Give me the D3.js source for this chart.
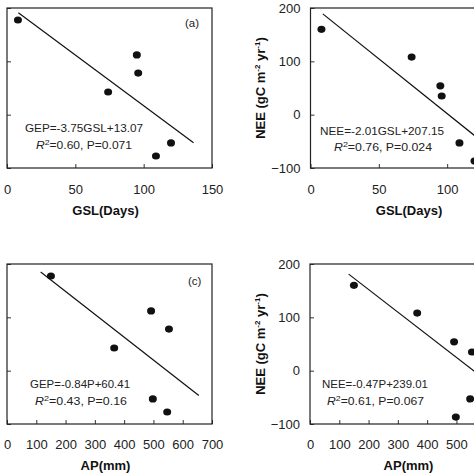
<!DOCTYPE html>
<html>
<head>
<meta charset="utf-8">
<script src="https://cdn.jsdelivr.net/npm/d3@7/dist/d3.min.js"></script>
<style>
  html, body { margin: 0; padding: 0; background: #fff; }
  svg { display: block; font-family: Arial, "Liberation Sans", Helvetica, sans-serif; }
</style>
</head>
<body>
<svg id="chart" width="474" height="474"></svg>
<script>
// ---- data ----
const gsl = [8, 74, 95, 96, 109, 120];          // growing season length (days)
const ap  = [150, 366, 492, 553, 547, 498];      // annual precipitation (mm)
const gep = [755, 485, 624, 556, 245, 294];      // GEP
const nee = [160, 108, 54, 35, -53, -87];        // NEE (gC m-2 yr-1)

// fitted-line end points as drawn in each panel [x, y]
const fitGslGep = [[8.3, 782], [136.5, 295]];
const fitGslNee = [[9, 189], [136, -72]];
const fitApGep  = [[115, 770], [655, 307]];
const fitApNee  = [[132, 181], [650, -39]];

// tick values
const gslTicks = [0, 50, 100, 150];
const apTicks  = [0, 100, 200, 300, 400, 500, 600, 700];
const gepTicks = [200, 400, 600, 800];
const neeTicks = [-100, 0, 100, 200];

const svg = d3.select("#chart");
svg.append("rect").attr("width", 474).attr("height", 474).attr("fill", "#fff");

function panel(o) {
  const W = 205, H = 160;
  const g = svg.append("g").attr("transform", `translate(${o.left},${o.top})`);
  const x = d3.scaleLinear().domain(o.xDomain).range([0, W]);
  const y = d3.scaleLinear().domain(o.yDomain).range([H, 0]);

  // x axis (ticks inward)
  const xa = g.append("g").attr("transform", `translate(0,${H})`)
    .call(d3.axisBottom(x).tickValues(o.xTicks.filter(v => o.left + x(v) < 474))
      .tickSizeInner(-4).tickSizeOuter(0).tickPadding(o.xPad));
  xa.select(".domain").remove();
  xa.selectAll("line").attr("stroke", "#333");
  xa.selectAll("text").attr("font-size", 13).attr("fill", "#222")
    .attr("font-family", "Arial, 'Liberation Sans', sans-serif");

  // y axis (ticks inward)
  const ya = g.append("g")
    .call(d3.axisLeft(y).tickValues(o.yTicks).tickSizeInner(-4).tickSizeOuter(0)
      .tickPadding(10).tickFormat(o.yLabels ? d3.format("d") : () => ""));
  ya.select(".domain").remove();
  ya.selectAll("line").attr("stroke", "#333");
  ya.selectAll("text").attr("font-size", 13).attr("fill", "#222")
    .attr("font-family", "Arial, 'Liberation Sans', sans-serif");

  // frame
  g.append("rect").attr("x", 0).attr("y", 0).attr("width", W).attr("height", H)
    .attr("fill", "none").attr("stroke", "#222").attr("stroke-width", 1.2);

  // fitted line
  g.append("path").datum(o.fit)
    .attr("d", d3.line().x(d => x(d[0])).y(d => y(d[1])))
    .attr("fill", "none").attr("stroke", "#111").attr("stroke-width", 1.2);

  // points
  g.selectAll("ellipse.pt").data(o.xs.map((v, i) => [v, o.ys[i]])).join("ellipse")
    .attr("class", "pt")
    .attr("cx", d => x(d[0])).attr("cy", d => y(d[1]))
    .attr("rx", 4).attr("ry", 3.6).attr("fill", "#111");

  // equation text
  g.append("text").attr("x", o.eq1[0]).attr("y", o.eq1[1])
    .attr("font-size", 11).attr("fill", "#222")
    .attr("textLength", o.eq1[2]).attr("lengthAdjust", "spacingAndGlyphs")
    .text(o.eqText);
  const t2 = g.append("text").attr("x", o.eq2[0]).attr("y", o.eq2[1])
    .attr("font-size", 11).attr("fill", "#222")
    .attr("textLength", o.eq2[2]).attr("lengthAdjust", "spacingAndGlyphs");
  t2.append("tspan").attr("font-style", "italic").text("R");
  t2.append("tspan").attr("font-size", 8).attr("dy", -4).text("2");
  t2.append("tspan").attr("dy", 4).text(o.statText);

  // panel label
  if (o.label) {
    g.append("text").attr("x", o.labelPos[0]).attr("y", o.labelPos[1])
      .attr("font-size", 11.5).attr("fill", "#222").text(o.label);
  }

  // x title
  g.append("text").attr("x", W / 2 - 4).attr("y", o.xTitleY)
    .attr("text-anchor", "middle").attr("font-size", 13).attr("font-weight", "bold")
    .attr("fill", "#111").text(o.xTitle);

  // y title
  if (o.yTitle) {
    const yt = g.append("text")
      .attr("transform", `translate(${-50},${H / 2}) rotate(-90)`)
      .attr("text-anchor", "middle").attr("dy", "0.35em")
      .attr("font-size", 13).attr("font-weight", "bold").attr("fill", "#111");
    yt.append("tspan").text("NEE (gC m");
    yt.append("tspan").attr("font-size", 8).attr("dy", -5).text("-2");
    yt.append("tspan").attr("dy", 5).text(" yr");
    yt.append("tspan").attr("font-size", 8).attr("dy", -5).text("-1");
    yt.append("tspan").attr("dy", 5).text(")");
  }
}

panel({
  left: 7, top: 8, xDomain: [0, 150], yDomain: [200, 800],
  xTicks: gslTicks, yTicks: gepTicks, yLabels: false, xPad: 17,
  xs: gsl, ys: gep, fit: fitGslGep,
  eqText: "GEP=-3.75GSL+13.07", eq1: [18, 124, 118],
  statText: "=0.60,  P=0.071", eq2: [29, 141, 96],
  label: "(a)", labelPos: [178, 19],
  xTitle: "GSL(Days)", xTitleY: 207
});

panel({
  left: 310.5, top: 8, xDomain: [0, 150], yDomain: [-100, 200],
  xTicks: gslTicks, yTicks: neeTicks, yLabels: true, xPad: 17,
  xs: gsl, ys: nee, fit: fitGslNee,
  eqText: "NEE=-2.01GSL+207.15", eq1: [9.5, 127, 124],
  statText: "=0.76,  P=0.024", eq2: [23.5, 143, 98],
  xTitle: "GSL(Days)", xTitleY: 207, yTitle: true
});

panel({
  left: 7, top: 264, xDomain: [0, 700], yDomain: [200, 800],
  xTicks: apTicks, yTicks: gepTicks, yLabels: false, xPad: 16,
  xs: ap, ys: gep, fit: fitApGep,
  eqText: "GEP=-0.84P+60.41", eq1: [23, 124, 100],
  statText: "=0.43,  P=0.16", eq2: [28, 141, 92],
  label: "(c)", labelPos: [181, 21],
  xTitle: "AP(mm)", xTitleY: 206
});

panel({
  left: 310, top: 264, xDomain: [0, 700], yDomain: [-100, 200],
  xTicks: apTicks, yTicks: neeTicks, yLabels: true, xPad: 16,
  xs: ap, ys: nee, fit: fitApNee,
  eqText: "NEE=-0.47P+239.01", eq1: [12, 124, 106],
  statText: "=0.61,  P=0.067", eq2: [17, 141, 97],
  xTitle: "AP(mm)", xTitleY: 206, yTitle: true
});
</script>
</body>
</html>
